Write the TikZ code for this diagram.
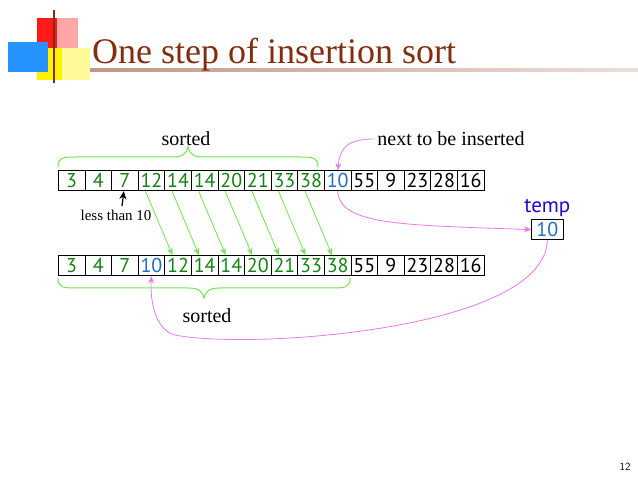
\documentclass[tikz,border=0pt]{standalone}
\usepackage{fontspec}
\setmainfont{Liberation Serif}
\newfontfamily\cellfont{PT Sans}
\usetikzlibrary{arrows.meta}
\definecolor{gtext}{RGB}{20,130,20}
\definecolor{btext}{RGB}{30,110,200}
\definecolor{brace}{RGB}{110,230,80}
\definecolor{pinkc}{RGB}{235,120,235}
\definecolor{titlec}{RGB}{130,45,15}
\begin{document}
\begin{tikzpicture}[x=1pt,y=-1pt,
  cell/.style={draw,line width=0.7pt,minimum width=26.6pt,minimum height=20.5pt,inner sep=0pt,font=\cellfont\fontsize{20}{20}\selectfont,anchor=north west},
  gbrace/.style={draw=brace,line width=1pt},
  garrow/.style={draw=brace,line width=0.8pt,-{Stealth[length=7pt,width=6pt]}},
  parrow/.style={draw=pinkc,line width=0.8pt,-{Stealth[length=7pt,width=6pt]}},
  lbl/.style={font=\fontsize{20}{20}\selectfont}]
\useasboundingbox (0,0) rectangle (638,478);
% logo
\fill[red!90!white] (37,18) rectangle (78,48);
\fill[red!35!white] (57,18) rectangle (78,48);
\fill[yellow] (37,48) rectangle (90,80);
\fill[yellow!40!white] (62,48) rectangle (90,80);
\fill[blue!50!cyan!85!white] (8,42) rectangle (48,72);
\draw[titlec,line width=1.2pt] (54,10) -- (54,83);
\shade[left color=titlec!50,right color=titlec!15] (90,69) rectangle (638,72);
\node[anchor=base west,text=titlec,font=\fontsize{36}{36}\selectfont,inner sep=0pt] (title) at (92,64) {One step of insertion sort};
% rows
\foreach \v/\c [count=\i from 0] in {3/gtext,4/gtext,7/gtext,12/gtext,14/gtext,14/gtext,20/gtext,21/gtext,33/gtext,38/gtext,10/btext,55/black,9/black,23/black,28/black,16/black}{
  \node[cell,text=\c] (a\i) at ({58+26.6*\i},170) {\v};}
\foreach \v/\c [count=\i from 0] in {3/gtext,4/gtext,7/gtext,10/btext,12/gtext,14/gtext,14/gtext,20/gtext,21/gtext,33/gtext,38/gtext,55/black,9/black,23/black,28/black,16/black}{
  \node[cell,text=\c] (b\i) at ({58+26.6*\i},255) {\v};}
% braces
\draw[gbrace] (58,167) .. controls (58,158) and (62,157) .. (75,157) -- (172,157) .. controls (183,157) and (186,154) .. (188,147)
  .. controls (190,154) and (193,157) .. (204,157) -- (301,157) .. controls (314,157) and (318,158) .. (318,167);
\node[lbl] (s1) at (186,139) {sorted};
\draw[gbrace] (58,278) .. controls (58,287) and (62,288) .. (75,288) -- (188,288) .. controls (199,288) and (202,291) .. (204,298)
  .. controls (206,291) and (209,288) .. (220,288) -- (333,288) .. controls (346,288) and (350,287) .. (350,278);
\node[lbl] (s2) at (207,316) {sorted};
% green arrows
\foreach \i [evaluate=\i as \j using int(\i+1)] in {3,...,9}{
  \draw[garrow] ([xshift=-6pt]a\i.south) -- ([xshift=8pt]b\j.north west);}
% less than 10
\node[lbl,font=\fontsize{15}{15}\selectfont] (lt) at (116,215) {less than 10};
\draw[line width=1.2pt,-{Stealth[length=8pt,width=7pt]}] ([xshift=6pt]lt.north) -- ([xshift=-1pt]a2.south);
% temp
\node[cell,text=btext] (t) at (531,219) {\hbox to 32pt{\hfil 10\hfil}};
\node[font=\cellfont\fontsize{21}{21}\selectfont,text=blue!70!violet,anchor=south,inner sep=2pt] (tl) at (t.north) {temp};
% next to be inserted
\node[lbl] (nx) at (451,139) {next to be inserted};
\draw[parrow] (nx.west) .. controls (345,139) and (340,150) .. (a10.north);
\draw[parrow] (a10.south) .. controls (340,225) and (400,225) .. (t.west);
\draw[parrow] (t.south) .. controls (545,330) and (250,350) .. (175,335) .. controls (155,330) and (150,300) .. (b3.south);
\node[font=\sffamily\fontsize{11}{11}\selectfont] (pg) at (625,467) {12};
\end{tikzpicture}
\end{document}
